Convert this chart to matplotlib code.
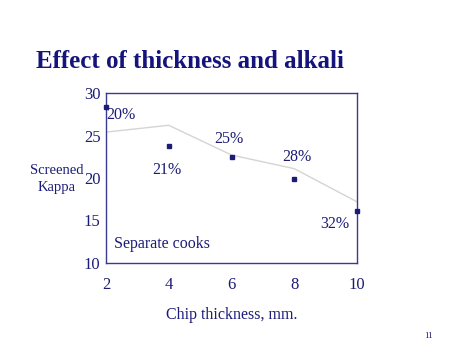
import matplotlib.pyplot as plt

thickness = [2, 4, 6, 8, 10]
kappa_points = [28.3, 23.8, 22.5, 19.9, 16.1]
kappa_line = [25.4, 26.2, 22.7, 21.1, 17.2]
alkali_labels = ["20%", "21%", "25%", "28%", "32%"]
label_x = [2.47, 3.93, 5.92, 8.08, 9.3]
label_y = [27.4, 21.0, 24.55, 22.5, 14.55]

navy = "#1c1c78"
plt.rcParams["font.family"] = ["Liberation Serif", "DejaVu Serif"]

fig = plt.figure(figsize=(4.74, 3.55), dpi=100)
ax = fig.add_axes([106 / 474, 1 - 263 / 355, 251 / 474, 170 / 355])

ax.plot(thickness, kappa_line, color="#d4d4d4", lw=1.0, zorder=1)
ax.plot(thickness, kappa_points, ls="none", marker="s", ms=3.2, color=navy,
        clip_on=False, zorder=3)

fs = 11.5
for lx, ly, t in zip(label_x, label_y, alkali_labels):
    ax.text(lx, ly, t, ha="center", va="center", fontsize=fs, color=navy)
ax.text(2.26, 12.2, "Separate cooks", ha="left", va="center", fontsize=fs, color=navy)

ax.set_xlim(2, 10)
ax.set_ylim(10, 30)
ax.set_xticks([2, 4, 6, 8, 10])
ax.set_yticks([10, 15, 20, 25, 30])
ax.tick_params(length=0, labelsize=12, labelcolor=navy)
ax.tick_params(axis="x", pad=10)
ax.tick_params(axis="y", pad=4)
for s in ax.spines.values():
    s.set_color("#3a3a90")
    s.set_linewidth(1.0)

ax.set_xlabel("Chip thickness, mm.", fontsize=fs, color=navy, labelpad=10)
fig.text(57 / 474, 1 - 179 / 355, "Screened\nKappa", ha="center", va="center",
         fontsize=10.5, color=navy, linespacing=1.45)

fig.text(36 / 474, 1 - 62 / 355, "Effect of thickness and alkali", ha="left",
         va="center", fontsize=18, fontweight="bold", color="#14147a")
fig.text(429 / 474, 1 - 336 / 355, "11", ha="center", va="center", fontsize=6.5,
         color=navy)

fig.savefig("out.png", dpi=100)
